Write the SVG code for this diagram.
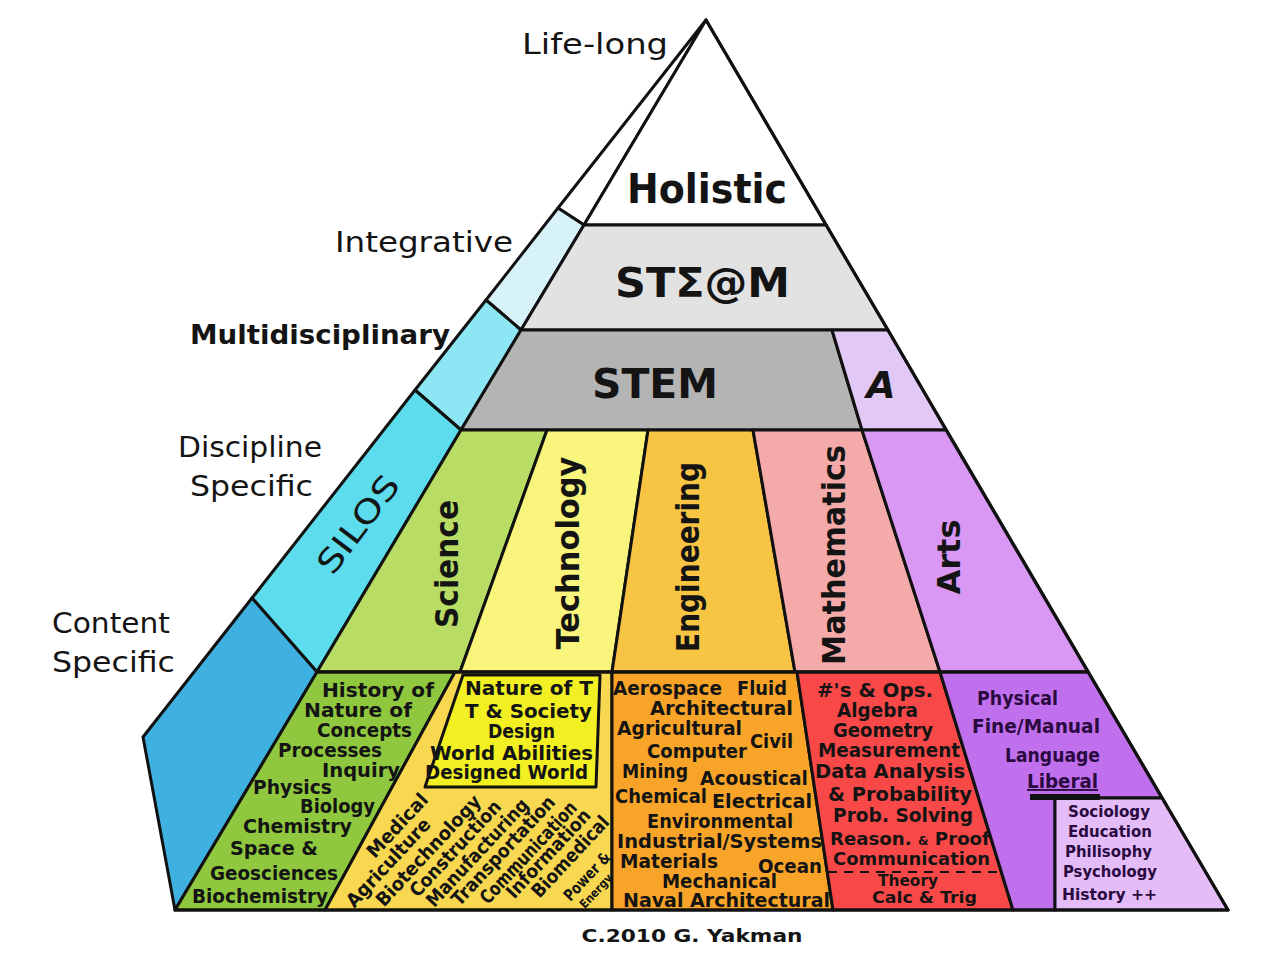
<svg xmlns="http://www.w3.org/2000/svg" width="1287" height="953" viewBox="0 0 1287 953">
<style>
.sh{stroke:#111;stroke-width:3;stroke-linejoin:round}
.ln{stroke:#111;stroke-width:3;fill:none;stroke-linecap:round}
text{font-family:"DejaVu Sans","Liberation Sans",sans-serif;fill:#141414}
.lab{font-size:28px}
.big{font-size:40px;font-weight:bold}
.sub{font-size:32px;font-weight:bold}
.t{font-size:19px;font-weight:bold}
.m{font-size:18px;font-weight:bold}
.s{font-size:16px;font-weight:bold}
.d{font-size:19px;font-weight:bold}
.ar{fill:#2a0a40}
</style>
<rect width="1287" height="953" fill="#ffffff"/>
<g id="side-face">
<polygon id="lifelong-band" class="sh" fill="#ffffff" points="706,20 558,208 584,225"/>
<polygon id="integrative-band" class="sh" fill="#d8f2f9" points="558,208 584,225 521,330 486,300"/>
<polygon id="multidisciplinary-band" class="sh" fill="#8de6f3" points="486,300 521,330 461,430 415,390"/>
<polygon id="silos-band" class="sh" fill="#5cdcec" points="415,390 461,430 317,672 252,598"/>
<polygon id="content-band" class="sh" fill="#3eb1e0" points="252,598 317,672 175,910 143,737"/>
</g>
<g id="holistic"><polygon class="sh" fill="#ffffff" points="706,20 584,225 826,225"/>
<text class="big" x="707" y="203" text-anchor="middle" textLength="160" lengthAdjust="spacingAndGlyphs">Holistic</text></g>
<g id="steam"><polygon class="sh" fill="#e2e2e2" points="584,225 826,225 888,330 521,330"/>
<text class="big" x="615" y="297" textLength="175" lengthAdjust="spacingAndGlyphs">STΣ@M</text></g>
<g id="stem"><polygon class="sh" fill="#b4b4b4" points="521,330 832,330 862,430 461,430"/>
<text class="big" x="592" y="398" textLength="126" lengthAdjust="spacingAndGlyphs">STEM</text></g>
<g id="a"><polygon class="sh" fill="#e2c8f4" points="832,330 888,330 946,430 862,430"/>
<text x="881" y="398" text-anchor="middle" style="font-size:38px;font-weight:bold;font-style:italic">A</text></g>
<g id="science"><polygon class="sh" fill="#b8dc64" points="461,430 547,430 460,672 317,672"/>
<text class="sub" transform="translate(458,564) rotate(-90)" text-anchor="middle" textLength="128" lengthAdjust="spacingAndGlyphs">Science</text></g>
<g id="technology"><polygon class="sh" fill="#f8f47c" points="547,430 648,430 612,672 460,672"/>
<text class="sub" transform="translate(579,553) rotate(-90)" text-anchor="middle" textLength="193" lengthAdjust="spacingAndGlyphs">Technology</text></g>
<g id="engineering"><polygon class="sh" fill="#f8c444" points="648,430 753,430 795,672 612,672"/>
<text class="sub" transform="translate(699,557) rotate(-90)" text-anchor="middle" textLength="190" lengthAdjust="spacingAndGlyphs">Engineering</text></g>
<g id="mathematics"><polygon class="sh" fill="#f4aaa8" points="753,430 862,430 940,672 795,672"/>
<text class="sub" transform="translate(845,555) rotate(-90)" text-anchor="middle" textLength="220" lengthAdjust="spacingAndGlyphs">Mathematics</text></g>
<g id="arts"><polygon class="sh" fill="#d898f4" points="862,430 946,430 1088,672 940,672"/>
<text class="sub" transform="translate(960,557) rotate(-90)" text-anchor="middle" textLength="75" lengthAdjust="spacingAndGlyphs">Arts</text></g>
<g id="silos-label"><text class="sub" transform="translate(367,531) rotate(-53)" text-anchor="middle" textLength="114" lengthAdjust="spacingAndGlyphs" style="font-weight:normal">SILOS</text></g>

<g id="science-content"><polygon class="sh" fill="#8fc83e" points="317,672 455,672 325,910 175,910"/>
<text class="t" x="322" y="697" textLength="112" lengthAdjust="spacingAndGlyphs">History of</text>
<text class="t" x="304" y="717" textLength="108" lengthAdjust="spacingAndGlyphs">Nature of</text>
<text class="t" x="317" y="737" textLength="95" lengthAdjust="spacingAndGlyphs">Concepts</text>
<text class="t" x="278" y="757" textLength="104" lengthAdjust="spacingAndGlyphs">Processes</text>
<text class="t" x="322" y="777" textLength="78" lengthAdjust="spacingAndGlyphs">Inquiry</text>
<text class="t" x="253" y="794" textLength="79" lengthAdjust="spacingAndGlyphs">Physics</text>
<text class="t" x="300" y="813" textLength="75" lengthAdjust="spacingAndGlyphs">Biology</text>
<text class="t" x="243" y="833" textLength="109" lengthAdjust="spacingAndGlyphs">Chemistry</text>
<text class="t" x="230" y="855" textLength="88" lengthAdjust="spacingAndGlyphs">Space &amp;</text>
<text class="t" x="210" y="880" textLength="128" lengthAdjust="spacingAndGlyphs">Geosciences</text>
<text class="t" x="192" y="903" textLength="136" lengthAdjust="spacingAndGlyphs">Biochemistry</text>
</g>
<g id="technology-content"><polygon class="sh" fill="#f8d850" points="455,672 612,672 612,910 325,910"/>
<polygon class="sh" fill="#f2f022" points="463,675 600,675 596,787 425,787"/>
<text class="t" x="465" y="695" textLength="128" lengthAdjust="spacingAndGlyphs">Nature of T</text>
<text class="t" x="465" y="718" textLength="127" lengthAdjust="spacingAndGlyphs">T &amp; Society</text>
<text class="t" x="488" y="738" textLength="67" lengthAdjust="spacingAndGlyphs">Design</text>
<text class="t" x="430" y="760" textLength="163" lengthAdjust="spacingAndGlyphs">World Abilities</text>
<text class="t" x="425" y="779" textLength="163" lengthAdjust="spacingAndGlyphs">Designed World</text>
<g text-anchor="middle">
<text class="d" transform="translate(402,830) rotate(-47)" textLength="80" lengthAdjust="spacingAndGlyphs">Medical</text>
<text class="d" transform="translate(393,867) rotate(-47)" textLength="114" lengthAdjust="spacingAndGlyphs">Agriculture</text>
<text class="d" transform="translate(433,855) rotate(-47)" textLength="144" lengthAdjust="spacingAndGlyphs">Biotechnology</text>
<text class="d" transform="translate(460,853) rotate(-47)" textLength="124" lengthAdjust="spacingAndGlyphs">Construction</text>
<text class="d" transform="translate(482,857) rotate(-47)" textLength="140" lengthAdjust="spacingAndGlyphs">Manufacturing</text>
<text class="d" transform="translate(508,855) rotate(-47)" textLength="142" lengthAdjust="spacingAndGlyphs">Transportation</text>
<text class="d" transform="translate(533,857) rotate(-47)" textLength="132" lengthAdjust="spacingAndGlyphs">Communication</text>
<text class="d" transform="translate(553,858) rotate(-47)" textLength="114" lengthAdjust="spacingAndGlyphs">Information</text>
<text class="d" transform="translate(575,861) rotate(-47)" textLength="104" lengthAdjust="spacingAndGlyphs">Biomedical</text>
<text class="d" transform="translate(591,880) rotate(-47)" textLength="60" lengthAdjust="spacingAndGlyphs" style="font-size:16px">Power &amp;</text>
<text class="d" transform="translate(599,894) rotate(-47)" textLength="42" lengthAdjust="spacingAndGlyphs" style="font-size:12px">Energy</text>
</g>
</g>
<g id="engineering-content"><polygon class="sh" fill="#f8a428" points="612,672 797,672 833,910 612,910"/>
<text class="t" x="613" y="695" textLength="109" lengthAdjust="spacingAndGlyphs">Aerospace</text>
<text class="t" x="737" y="695" textLength="50" lengthAdjust="spacingAndGlyphs">Fluid</text>
<text class="t" x="650" y="715" textLength="143" lengthAdjust="spacingAndGlyphs">Architectural</text>
<text class="t" x="617" y="735" textLength="125" lengthAdjust="spacingAndGlyphs">Agricultural</text>
<text class="t" x="750" y="748" textLength="43" lengthAdjust="spacingAndGlyphs">Civil</text>
<text class="t" x="647" y="758" textLength="100" lengthAdjust="spacingAndGlyphs">Computer</text>
<text class="t" x="622" y="778" textLength="66" lengthAdjust="spacingAndGlyphs">Mining</text>
<text class="t" x="700" y="785" textLength="108" lengthAdjust="spacingAndGlyphs">Acoustical</text>
<text class="t" x="615" y="803" textLength="92" lengthAdjust="spacingAndGlyphs">Chemical</text>
<text class="t" x="712" y="808" textLength="100" lengthAdjust="spacingAndGlyphs">Electrical</text>
<text class="t" x="647" y="828" textLength="146" lengthAdjust="spacingAndGlyphs">Environmental</text>
<text class="t" x="617" y="848" textLength="205" lengthAdjust="spacingAndGlyphs">Industrial/Systems</text>
<text class="t" x="620" y="868" textLength="98" lengthAdjust="spacingAndGlyphs">Materials</text>
<text class="t" x="758" y="873" textLength="64" lengthAdjust="spacingAndGlyphs">Ocean</text>
<text class="t" x="662" y="888" textLength="115" lengthAdjust="spacingAndGlyphs">Mechanical</text>
<text class="t" x="623" y="907" textLength="207" lengthAdjust="spacingAndGlyphs">Naval Architectural</text>
</g>
<g id="mathematics-content"><polygon class="sh" fill="#f84848" points="797,672 940,672 1013,910 833,910"/>
<text class="t" x="817" y="697" textLength="116" lengthAdjust="spacingAndGlyphs">#'s &amp; Ops.</text>
<text class="t" x="837" y="717" textLength="81" lengthAdjust="spacingAndGlyphs">Algebra</text>
<text class="t" x="833" y="737" textLength="100" lengthAdjust="spacingAndGlyphs">Geometry</text>
<text class="t" x="818" y="757" textLength="142" lengthAdjust="spacingAndGlyphs">Measurement</text>
<text class="t" x="815" y="778" textLength="150" lengthAdjust="spacingAndGlyphs">Data Analysis</text>
<text class="t" x="828" y="801" textLength="144" lengthAdjust="spacingAndGlyphs">&amp; Probability</text>
<text class="t" x="833" y="822" textLength="140" lengthAdjust="spacingAndGlyphs">Prob. Solving</text>
<text class="m" x="830" y="845" textLength="160" lengthAdjust="spacingAndGlyphs">Reason. <tspan style="font-size:12px">&amp;</tspan> Proof</text>
<text class="m" x="833" y="865" textLength="157" lengthAdjust="spacingAndGlyphs">Communication</text>
<line x1="828" y1="872" x2="1000" y2="872" stroke="#111" stroke-width="2" stroke-dasharray="9,7"/>
<text x="878" y="886" textLength="60" lengthAdjust="spacingAndGlyphs" style="font-size:15px;font-weight:bold">Theory</text>
<text x="872" y="903" textLength="105" lengthAdjust="spacingAndGlyphs" style="font-size:15px;font-weight:bold">Calc &amp; Trig</text>
</g>
<g id="arts-content"><polygon class="sh" fill="#c070ec" points="940,672 1088,672 1162,798 1055,798 1055,910 1013,910"/>
<polygon class="sh" fill="#e4bcf8" points="1055,798 1162,798 1228,910 1055,910"/>
<text class="t ar" x="977" y="705" textLength="81" lengthAdjust="spacingAndGlyphs">Physical</text>
<text class="t ar" x="972" y="733" textLength="128" lengthAdjust="spacingAndGlyphs">Fine/Manual</text>
<text class="t ar" x="1005" y="762" textLength="95" lengthAdjust="spacingAndGlyphs">Language</text>
<text class="t ar" x="1027" y="788" textLength="71" lengthAdjust="spacingAndGlyphs" text-decoration="underline">Liberal</text>
<line x1="1030" y1="797" x2="1100" y2="797" stroke="#111" stroke-width="6"/>
<text class="s ar" x="1068" y="817" textLength="82" lengthAdjust="spacingAndGlyphs">Sociology</text>
<text class="s ar" x="1068" y="837" textLength="84" lengthAdjust="spacingAndGlyphs">Education</text>
<text class="s ar" x="1065" y="857" textLength="87" lengthAdjust="spacingAndGlyphs">Philisophy</text>
<text class="s ar" x="1063" y="877" textLength="94" lengthAdjust="spacingAndGlyphs">Psychology</text>
<text class="s ar" x="1062" y="900" textLength="95" lengthAdjust="spacingAndGlyphs">History ++</text>
</g>
<g id="connectors">
<line class="ln" x1="706" y1="20" x2="1228" y2="910"/>
<line class="ln" x1="175" y1="910" x2="1228" y2="910"/>
<line class="ln" x1="317" y1="672" x2="1088" y2="672"/>
</g>
<g id="level-labels">
<text class="lab" x="522" y="54" textLength="146" lengthAdjust="spacingAndGlyphs">Life-long</text>
<text class="lab" x="335" y="252" textLength="178" lengthAdjust="spacingAndGlyphs">Integrative</text>
<text class="lab" x="190" y="344" textLength="260" lengthAdjust="spacingAndGlyphs" style="font-size:27px;font-weight:bold">Multidisciplinary</text>
<text class="lab" x="178" y="457" textLength="144" lengthAdjust="spacingAndGlyphs">Discipline</text>
<text class="lab" x="190" y="496" textLength="123" lengthAdjust="spacingAndGlyphs">Specific</text>
<text class="lab" x="52" y="633" textLength="118" lengthAdjust="spacingAndGlyphs">Content</text>
<text class="lab" x="52" y="672" textLength="123" lengthAdjust="spacingAndGlyphs">Specific</text>
</g>
<g id="credit"><text x="692" y="942" text-anchor="middle" textLength="221" lengthAdjust="spacingAndGlyphs" style="font-size:18px;font-weight:bold">C.2010 G. Yakman</text></g>
</svg>
